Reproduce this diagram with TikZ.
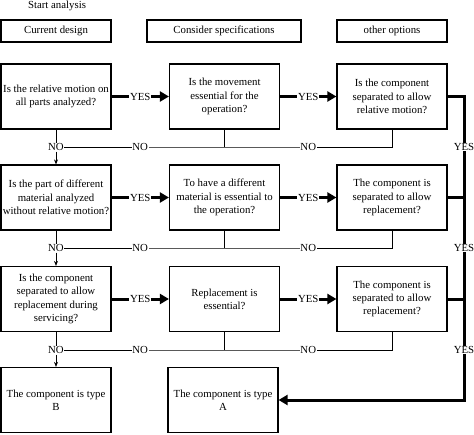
\documentclass[tikz,border=0pt]{standalone}
\usepackage{fontspec}
\setmainfont{Liberation Serif}
\usetikzlibrary{arrows.meta}

\tikzset{
  box/.style={draw,line width=1.2pt,minimum width=110pt,minimum height=65pt,align=center,inner sep=1pt},
  hdr/.style={draw,line width=1.2pt,minimum height=22pt,inner sep=1pt},
  yesline/.style={line width=3pt},
  yesarrow/.style={yesline,-{Triangle[length=9pt,width=10pt]}},
  noline/.style={line width=.8pt},
  lbl/.style={fill=white,inner sep=.6pt},
}

\begin{document}
\begin{tikzpicture}[x=1pt,y=-1pt,font=\fontsize{10.8}{13.3}\selectfont]
  \useasboundingbox (0,0) rectangle (474,434);
  % headers
  \node (start) at (57,6) {Start analysis};
  \node[hdr,minimum width=110pt] (hd1) at (56,31) {Current design};
  \node[hdr,minimum width=154pt] (hd2) at (224,31) {Consider specifications};
  \node[hdr,minimum width=110pt] (hd3) at (392,31) {other options};
  % row 1
  \node[box] (l1) at (56,96.5) {Is the relative motion on\\all parts analyzed?};
  \node[box] (m1) at (224.5,96.5) {Is the movement\\essential for the\\operation?};
  \node[box] (r1) at (392,96.5) {Is the component\\separated to allow\\relative motion?};
  % row 2
  \node[box] (l2) at (56,197.5) {Is the part of different\\material analyzed\\without relative motion?};
  \node[box] (m2) at (224.5,197.5) {To have a different\\material is essential to\\the operation?};
  \node[box] (r2) at (392,197.5) {The component is\\separated to allow\\replacement?};
  % row 3
  \node[box] (l3) at (56,299) {Is the component\\separated to allow\\replacement during\\servicing?};
  \node[box] (m3) at (224.5,299) {Replacement is\\essential?};
  \node[box] (r3) at (392,299) {The component is\\separated to allow\\replacement?};
  % results
  \node[box] (l4) at (56,400) {The component is type\\B};
  \node[box] (m4) at (223,400) {The component is type\\A};

  % YES arrows
  \foreach \i in {1,2,3}{
    \draw[yesarrow] (l\i.east) -- node[lbl]{YES} (m\i.west);
    \draw[yesarrow] (m\i.east) -- node[lbl]{YES} (r\i.west);
  }

  % NO lines
  \foreach \i/\j/\y in {1/2/147,2/3/248,3/4/350}{
    \coordinate (y\i) at (0,\y);
    \draw[noline] (r\i.south) |- node[lbl,pos=.75]{NO} (m\i.south |- y\i)
      -- node[lbl]{NO} (l\i.south |- y\i);
    \draw[noline] (m\i.south) -- (m\i.south |- y\i);
    \draw[noline] (l\i.south) -- (l\i.south |- y\i) node[lbl] (no\i) {NO};
    \draw[noline,-{Stealth[length=5pt,width=4pt]}] (no\i) -- (l\j.north);
  }

  % YES bus on the right
  \coordinate (bus) at (464,0);
  \draw[yesline] (r2.east) -- (bus |- r2.east);
  \draw[yesline] (r3.east) -- (bus |- r3.east);
  \draw[yesarrow] (r1.east) -- (bus |- r1.east) -- (bus |- y1) node[lbl]{YES}
    -- (bus |- y2) node[lbl]{YES} -- (bus |- y3) node[lbl]{YES}
    -- (bus |- m4.east) -- (m4.east);
\end{tikzpicture}
\end{document}
